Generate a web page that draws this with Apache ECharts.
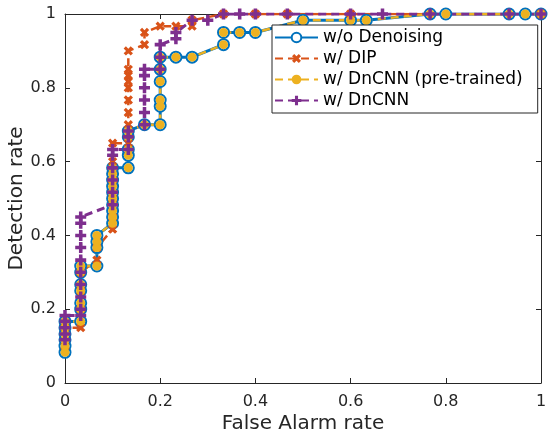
<!DOCTYPE html>
<html>
<head>
<meta charset="utf-8">
<script src="https://cdn.jsdelivr.net/npm/echarts@6/dist/echarts.min.js"></script>
<style>html,body{margin:0;padding:0;background:#fff;}#c{width:550px;height:440px;}</style>
</head>
<body>
<div id="c"></div>
<script>
// Series names
const seriesNames = ['w/o Denoising', 'w/ DIP', 'w/ DnCNN (pre-trained)', 'w/ DnCNN'];
// Tick values
const xTicks = [0, 0.2, 0.4, 0.6, 0.8, 1];
const yTicks = [0, 0.2, 0.4, 0.6, 0.8, 1];

// w/o Denoising
const noDenoiseFA = [0,0,0,0,0,0, 0.033,0.033,0.033,0.033,0.033,0.033,0.033, 0.067,0.067,0.067,0.067, 0.1,0.1,0.1,0.1,0.1,0.1,0.1,0.1,0.1,0.1, 0.133,0.133,0.133,0.133,0.133, 0.167, 0.2,0.2,0.2,0.2,0.2,0.2, 0.233,0.267, 0.333,0.333, 0.367,0.4, 0.5, 0.6,0.633, 0.767,0.8,0.933,0.967,1];
const noDenoiseDR = [0.083,0.1,0.117,0.133,0.15,0.167, 0.167,0.2,0.217,0.25,0.267,0.3,0.317, 0.317,0.367,0.383,0.4, 0.433,0.45,0.467,0.483,0.5,0.517,0.533,0.55,0.567,0.583, 0.583,0.617,0.633,0.667,0.683, 0.7, 0.7,0.75,0.767,0.817,0.85,0.883, 0.883,0.883, 0.917,0.95, 0.95,0.95, 0.983, 0.983,0.983, 1,1,1,1,1];

// w/ DIP
const dipFA = [0,0, 0.033,0.033,0.033,0.033, 0.067,0.067, 0.1,0.1,0.1,0.1,0.1,0.1, 0.133,0.133,0.133,0.133,0.133,0.133,0.133,0.133,0.133, 0.167,0.167, 0.2,0.233, 0.267,0.267, 0.333,0.4,0.467,0.6,1];
const dipDR = [0.1,0.15, 0.15,0.2,0.25,0.3, 0.333,0.367, 0.417,0.45,0.5,0.55,0.6,0.65, 0.65,0.7,0.733,0.767,0.8,0.817,0.833,0.85,0.9, 0.917,0.95, 0.967,0.967, 0.967,0.983, 1,1,1,1,1];

// w/ DnCNN (pre-trained)
const pretrainedFA = [0,0,0,0,0,0, 0.033,0.033,0.033,0.033,0.033,0.033,0.033, 0.067,0.067,0.067,0.067, 0.1,0.1,0.1,0.1,0.1,0.1,0.1,0.1,0.1,0.1, 0.133,0.133,0.133,0.133,0.133, 0.167, 0.2,0.2,0.2,0.2,0.2,0.2, 0.233,0.267, 0.333,0.333, 0.367,0.4, 0.5, 0.6,0.633, 0.767,0.8,0.933,0.967,1];
const pretrainedDR = [0.083,0.1,0.117,0.133,0.15,0.167, 0.167,0.2,0.217,0.25,0.267,0.3,0.317, 0.317,0.367,0.383,0.4, 0.433,0.45,0.467,0.483,0.5,0.517,0.533,0.55,0.567,0.583, 0.583,0.617,0.633,0.667,0.683, 0.7, 0.7,0.75,0.767,0.817,0.85,0.883, 0.883,0.883, 0.917,0.95, 0.95,0.95, 0.983, 0.983,0.983, 1,1,1,1,1];

// w/ DnCNN
const dncnnFA = [0,0,0,0,0, 0.033,0.033,0.033,0.033,0.033,0.033,0.033,0.033,0.033,0.033, 0.1,0.1,0.1,0.1,0.1,0.1, 0.133,0.133,0.133, 0.167,0.167,0.167,0.167,0.167,0.167, 0.2,0.2,0.2, 0.233,0.233, 0.267,0.3, 0.333,0.367,0.4,0.467,0.6,0.667,0.767,0.933,1];
const dncnnDR = [0.117,0.133,0.15,0.167,0.183, 0.183,0.2,0.233,0.267,0.3,0.333,0.367,0.4,0.433,0.45, 0.483,0.517,0.55,0.583,0.617,0.633, 0.633,0.667,0.683, 0.7,0.733,0.767,0.8,0.833,0.85, 0.85,0.883,0.917, 0.933,0.95, 0.983,0.983, 1,1,1,1,1,1,1,1,1];

const zip = (a, b) => a.map((v, i) => [v, b[i]]);
const FONT = 'DejaVu Sans';
const AX = '#262626';
const plusPath = 'path://M3.4,0H6.6V3.4H10V6.6H6.6V10H3.4V6.6H0V3.4H3.4Z';

const chart = echarts.init(document.getElementById('c'), null, {renderer: 'canvas'});

const baseAxis = {
  type: 'value', min: 0, max: 1, interval: 0.2,
  axisLine: {show: true, onZero: false, lineStyle: {color: AX, width: 1}},
  axisTick: {show: true, inside: true, length: 5, lineStyle: {color: AX}},
  splitLine: {show: false}
};

chart.setOption({
  animation: false,
  textStyle: {fontFamily: FONT},
  grid: {left: 65, right: 9, top: 14, bottom: 57, outerBoundsMode: 'none', containLabel: false},
  legend: {
    orient: 'vertical', left: 272, top: 25,
    data: seriesNames,
    backgroundColor: '#fff', borderColor: AX, borderWidth: 1,
    padding: [4, 15, 4, 2], itemGap: 4, itemWidth: 43, itemHeight: 12,
    textStyle: {fontFamily: FONT, fontSize: 17, color: '#000'}
  },
  xAxis: [
    Object.assign({}, baseAxis, {
      position: 'bottom',
      axisLabel: {fontSize: 16, color: AX, margin: 11, fontFamily: FONT,
        formatter: v => xTicks.includes(+v.toFixed(1)) ? String(+v.toFixed(1)) : ''},
      name: 'False Alarm rate', nameLocation: 'middle', nameGap: 31, nameMoveOverlap: false,
      nameTextStyle: {fontSize: 20, color: AX, fontFamily: FONT}
    }),
    Object.assign({}, baseAxis, {position: 'top', axisLabel: {show: false}})
  ],
  yAxis: [
    Object.assign({}, baseAxis, {
      position: 'left',
      axisLabel: {fontSize: 16, color: AX, margin: 9, fontFamily: FONT,
        formatter: v => yTicks.includes(+v.toFixed(1)) ? String(+v.toFixed(1)) : ''},
      name: 'Detection rate', nameLocation: 'middle', nameGap: 38, nameMoveOverlap: false,
      nameTextStyle: {fontSize: 20, color: AX, fontFamily: FONT}
    }),
    Object.assign({}, baseAxis, {position: 'right', axisLabel: {show: false}})
  ],
  series: [
    {
      name: seriesNames[0], type: 'line', data: zip(noDenoiseFA, noDenoiseDR),
      symbol: 'emptyCircle', symbolSize: 11,
      lineStyle: {color: '#0072BD', width: 3, type: 'solid'},
      itemStyle: {color: '#0072BD', borderColor: '#0072BD', borderWidth: 1.5}
    },
    {
      name: seriesNames[1], type: 'line', data: zip(dipFA, dipDR),
      symbol: plusPath, symbolSize: 10, symbolRotate: 45,
      lineStyle: {color: '#D95319', width: 2.5, type: [8, 5]},
      itemStyle: {color: '#D95319'}
    },
    {
      name: seriesNames[2], type: 'line', data: zip(pretrainedFA, pretrainedDR),
      symbol: 'circle', symbolSize: 9,
      lineStyle: {color: '#EDB120', width: 2.5, type: [8, 5]},
      itemStyle: {color: '#EDB120'}
    },
    {
      name: seriesNames[3], type: 'line', data: zip(dncnnFA, dncnnDR),
      symbol: plusPath, symbolSize: 11,
      lineStyle: {color: '#7E2F8E', width: 3, type: [8, 5]},
      itemStyle: {color: '#7E2F8E'}
    }
  ]
});
</script>
</body>
</html>
